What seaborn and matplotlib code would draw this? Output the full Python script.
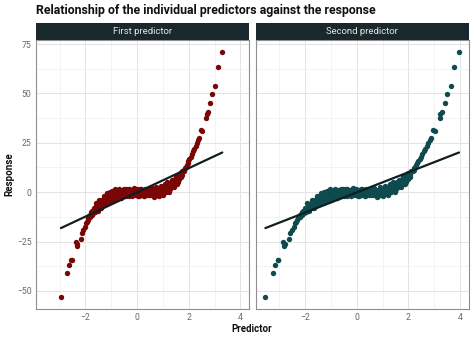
import matplotlib
matplotlib.use("Agg")
import matplotlib.pyplot as plt
import seaborn as sns
import pandas as pd
from matplotlib.patches import Rectangle

# ---- data ----
first_x = [
    -2.95, -2.70, -2.63, -2.56, -2.53, -2.37, -2.33, -2.32, -2.19, -2.15,
    -2.08, -2.03, -1.98, -1.95, -1.92, -1.89, -1.86, -1.84, -1.82,
    -1.80, -1.78, -1.76, -1.73, -1.69, -1.66, -1.64, -1.62, -1.58, -1.57,
    -1.55, -1.51, -1.49, -1.47, -1.44, -1.42, -1.40, -1.36, -1.34, -1.32,
    -1.28, -1.26, -1.24,
    -1.20, -1.18, -1.15, -1.13, -1.10, -1.08, -1.05, -1.03, -1.00, -0.98,
    -0.95, -0.93, -0.90, -0.88, -0.85, -0.82, -0.80, -0.77, -0.75, -0.72,
    -0.70, -0.67, -0.65, -0.62, -0.60,
    -0.58, -0.55, -0.53, -0.50, -0.48, -0.45, -0.43, -0.40, -0.38, -0.35,
    -0.33, -0.30, -0.28, -0.25, -0.22, -0.20, -0.17, -0.15, -0.12, -0.10,
    -0.07, -0.05, -0.02, 0.00, 0.03, 0.05, 0.08, 0.10, 0.13, 0.15,
    0.18, 0.20, 0.23, 0.25, 0.28, 0.30, 0.33, 0.36, 0.39, 0.42,
    0.45, 0.48, 0.51, 0.54, 0.57,
    0.60, 0.62, 0.65, 0.67, 0.70, 0.72, 0.75, 0.77, 0.80, 0.82,
    0.85, 0.88, 0.90, 0.93, 0.95, 0.98, 1.00, 1.03, 1.05, 1.08,
    1.10, 1.13, 1.15, 1.18, 1.20,
    1.22, 1.26, 1.29, 1.31, 1.33, 1.36, 1.40, 1.43, 1.45, 1.47,
    1.50, 1.52, 1.54, 1.57, 1.59, 1.61, 1.64, 1.66, 1.68, 1.71,
    1.73, 1.75,
    1.80, 1.83, 1.86, 1.89, 1.92, 1.96, 1.99, 2.03, 2.07, 2.12,
    2.18, 2.22, 2.27, 2.31, 2.36, 2.39, 2.47, 2.52, 2.68, 2.69,
    2.74, 2.83, 2.91, 3.03, 3.15, 3.30,
    -1.60, -1.53, -1.46, -1.38, -1.30, -1.22, -1.16, -1.11, -1.06, -1.01,
    -0.96, -0.91, -0.86, -0.78, -0.71, -0.63, -0.52, -0.41, -0.32, -0.18,
    -0.08, 0.07, 0.17, 0.27, 0.38, 0.47, 0.56, 0.66, 0.74, 0.83,
    0.92, 0.99, 1.07, 1.12, 1.17, 1.24, 1.35, 1.42, 1.49, 1.56,
]

second_x = [
    -3.54, -3.24, -3.16, -3.07, -3.04, -2.84, -2.80, -2.78, -2.63, -2.58,
    -2.50, -2.44, -2.38, -2.34, -2.30, -2.27, -2.23, -2.21, -2.18,
    -2.16, -2.14, -2.11, -2.08, -2.03, -1.99, -1.97, -1.94, -1.90, -1.88,
    -1.86, -1.81, -1.79, -1.76, -1.73, -1.70, -1.68, -1.63, -1.61, -1.58,
    -1.54, -1.51, -1.49,
    -1.44, -1.42, -1.38, -1.36, -1.32, -1.30, -1.26, -1.24, -1.20, -1.18,
    -1.14, -1.12, -1.08, -1.06, -1.02, -0.98, -0.96, -0.92, -0.90, -0.86,
    -0.84, -0.80, -0.78, -0.74, -0.72,
    -0.70, -0.66, -0.64, -0.60, -0.58, -0.54, -0.52, -0.48, -0.46, -0.42,
    -0.40, -0.36, -0.34, -0.30, -0.26, -0.24, -0.20, -0.18, -0.14, -0.12,
    -0.08, -0.06, -0.02, 0.00, 0.04, 0.06, 0.10, 0.12, 0.16, 0.18,
    0.22, 0.24, 0.28, 0.30, 0.34, 0.36, 0.40, 0.43, 0.47, 0.50,
    0.54, 0.58, 0.61, 0.65, 0.68,
    0.72, 0.74, 0.78, 0.80, 0.84, 0.86, 0.90, 0.92, 0.96, 0.98,
    1.02, 1.06, 1.08, 1.12, 1.14, 1.18, 1.20, 1.24, 1.26, 1.30,
    1.32, 1.36, 1.38, 1.42, 1.44,
    1.46, 1.51, 1.55, 1.57, 1.60, 1.63, 1.68, 1.72, 1.74, 1.76,
    1.80, 1.82, 1.85, 1.88, 1.91, 1.93, 1.97, 1.99, 2.02, 2.05,
    2.08, 2.10,
    2.16, 2.20, 2.23, 2.27, 2.30, 2.35, 2.39, 2.44, 2.48, 2.54,
    2.62, 2.66, 2.72, 2.77, 2.83, 2.87, 2.96, 3.02, 3.22, 3.23,
    3.29, 3.40, 3.49, 3.64, 3.78, 3.96,
    -1.92, -1.84, -1.75, -1.66, -1.56, -1.46, -1.39, -1.33, -1.27, -1.21,
    -1.15, -1.09, -1.03, -0.94, -0.85, -0.76, -0.62, -0.49, -0.38, -0.22,
    -0.10, 0.08, 0.20, 0.32, 0.46, 0.56, 0.67, 0.79, 0.89, 1.00,
    1.10, 1.19, 1.28, 1.34, 1.40, 1.49, 1.62, 1.70, 1.79, 1.87,
]

response = [
    -53.0, -40.9, -36.7, -34.5, -34.2, -25.5, -27.1, -26.5, -23.7, -20.7,
    -19.0, -17.4, -15.7, -15.0, -14.0, -13.2, -12.3, -12.8, -11.6,
    -10.9, -9.9, -11.8, -9.6, -10.5, -8.2, -10.1, -9.4, -7.0, -6.6,
    -8.6, -5.8, -8.2, -7.5, -5.2, -4.6, -6.9, -4.1, -6.3, -5.8,
    -3.2, -2.9, -4.9,
    -2.0, -5.1, -2.6, -3.8, -0.8, -3.8, -2.1, -4.3, -0.9, -2.4,
    0.0, -3.2, -0.9, -2.4, 0.8, -1.4, -2.9, 0.0, -1.5, 0.7,
    -1.9, -0.5, 1.3, -2.0, 0.3,
    0.9, -1.4, 0.2, -2.1, 0.7, -0.6, 1.5, -1.5, 0.1, -0.9,
    1.4, -2.0, 0.7, -0.2, 1.2, -1.3, 0.4, -1.6, 1.9, -0.6,
    0.8, -1.2, 1.4, -0.1, -1.7, 1.0, -0.9, 0.3, 1.6, -1.5,
    0.6, -0.3, 1.1, -1.8, 0.0, 1.4, -0.9, 0.6, -1.3, 1.1,
    -0.3, 1.4, -1.3, 0.5, 1.2,
    -1.6, 1.1, -0.8, 0.7, -1.8, 0.3, 1.6, -0.9, 0.8, -1.2,
    1.5, 0.3, -1.1, 1.6, 0.2, 2.4, -0.2, 1.8, 0.6, 3.4,
    1.7, 0.8, 3.1, 1.9, 3.9,
    3.9, 1.6, 3.9, 5.2, 2.8, 5.7, 3.3, 5.1, 3.9, 6.5,
    4.2, 7.8, 7.1, 6.3, 5.4, 8.7, 6.8, 9.9, 9.0, 7.7,
    8.6, 10.6,
    10.6, 11.0, 12.2, 12.7, 13.8, 14.6, 15.6, 17.0, 18.0, 19.5,
    21.0, 22.0, 23.5, 24.7, 26.6, 27.6, 31.5, 31.0, 37.7, 39.5,
    40.4, 45.3, 49.8, 54.0, 63.3, 70.9,
    -5.6, -9.6, -4.0, -8.0, -1.9, -5.9, -0.3, -4.9, 0.0, -4.7,
    0.5, -4.0, 1.4, -3.0, 1.8, -2.9, 1.4, -1.9, 1.7, -1.7,
    1.8, -1.8, 1.6, -1.9, 1.7, -1.6, 1.9, -2.6, 2.5, -2.0,
    2.9, -1.6, 4.0, -0.1, 5.0, 0.3, 6.2, 2.5, 8.0, 4.0,
]

# fitted linear trend at the ends of each panel's data
fit_first_x = [-2.95, 3.30]
fit_second_x = [-3.54, 3.96]
fit_response = [-18.2, 20.1]

panels = ["First predictor", "Second predictor"]
point_colors = ["#7a0606", "#0f4a4e"]
line_color = "#0f1e21"
x_ticks = [-2, 0, 2, 4]
x_minor = [-3, -1, 1, 3]
y_ticks = [-50, -25, 0, 25, 50, 75]
y_minor = [-37.5, -12.5, 12.5, 37.5, 62.5]
title = "Relationship of the individual predictors against the response"

# ---- build long tables ----
n = len(response)
df = pd.DataFrame({
    "Predictor": first_x + second_x,
    "Response": response + response,
    "panel": [panels[0]] * n + [panels[1]] * n,
})
fit = pd.DataFrame({
    "Predictor": fit_first_x + fit_second_x,
    "Response": fit_response + fit_response,
    "panel": [panels[0]] * 2 + [panels[1]] * 2,
})

sns.set_theme(style="white")
plt.rcParams["font.family"] = ["Roboto", "DejaVu Sans"]

fig = plt.figure(figsize=(4.74, 3.38), dpi=100)
fig.patch.set_facecolor("white")

W, H = 474.0, 338.0
bottom = 1 - 309 / H
height = (309 - 40) / H
ax1 = fig.add_axes([36 / W, bottom, 213 / W, height])
ax2 = fig.add_axes([255.7 / W, bottom, 213 / W, height], sharex=ax1, sharey=ax1)

xlo, xhi = df["Predictor"].min(), df["Predictor"].max()
ylo, yhi = df["Response"].min(), df["Response"].max()
xr, yr = xhi - xlo, yhi - ylo

for ax, panel, col in zip([ax1, ax2], panels, point_colors):
    sub = df[df["panel"] == panel]
    fsub = fit[fit["panel"] == panel]
    ax.set_axisbelow(True)
    sns.scatterplot(data=sub, x="Predictor", y="Response", color=col,
                    s=15, linewidth=0, ax=ax, zorder=3, legend=False)
    sns.lineplot(data=fsub, x="Predictor", y="Response", color=line_color,
                 lw=1.6, ax=ax, zorder=4, legend=False)
    ax.set_xlim(xlo - 0.05 * xr, xhi + 0.05 * xr)
    ax.set_ylim(ylo - 0.05 * yr, yhi + 0.05 * yr)
    ax.set_xticks(x_ticks)
    ax.set_xticks(x_minor, minor=True)
    ax.set_yticks(y_ticks)
    ax.set_yticks(y_minor, minor=True)
    ax.grid(True, which="major", color="#e3e3e3", lw=0.7)
    ax.grid(True, which="minor", color="#f1f1f1", lw=0.6)
    ax.tick_params(which="both", length=0, labelsize=6.2,
                   labelcolor="#666666", pad=3.2)
    ax.set_xlabel("")
    ax.set_ylabel("")
    for s in ax.spines.values():
        s.set_visible(True)
        s.set_color("#8f8f8f")
        s.set_linewidth(0.8)
    ax.set_facecolor("white")
    # strip
    ax.add_patch(Rectangle((0, 1.0), 1, 16.8 / (309 - 40), transform=ax.transAxes,
                           facecolor="#18282d", edgecolor="none", clip_on=False,
                           zorder=5))
    ax.text(0.5, 1.0 + 8.4 / (309 - 40), panel, transform=ax.transAxes,
            ha="center", va="center", color="#e6e6e6", fontsize=6.8, zorder=6)

plt.setp(ax2.get_yticklabels(), visible=False)

fig.text(36 / W, 1 - 10.5 / H, title, ha="left", va="center",
         fontsize=8.9, fontweight="bold", color="#111111")
fig.text(9.5 / W, 1 - 174.5 / H, "Response", rotation=90, ha="center",
         va="center", fontsize=7, fontweight="bold", color="#111111")
fig.text(252 / W, 1 - 329.5 / H, "Predictor", ha="center", va="center",
         fontsize=7, fontweight="bold", color="#111111")

fig.savefig("out.png", dpi=100)
